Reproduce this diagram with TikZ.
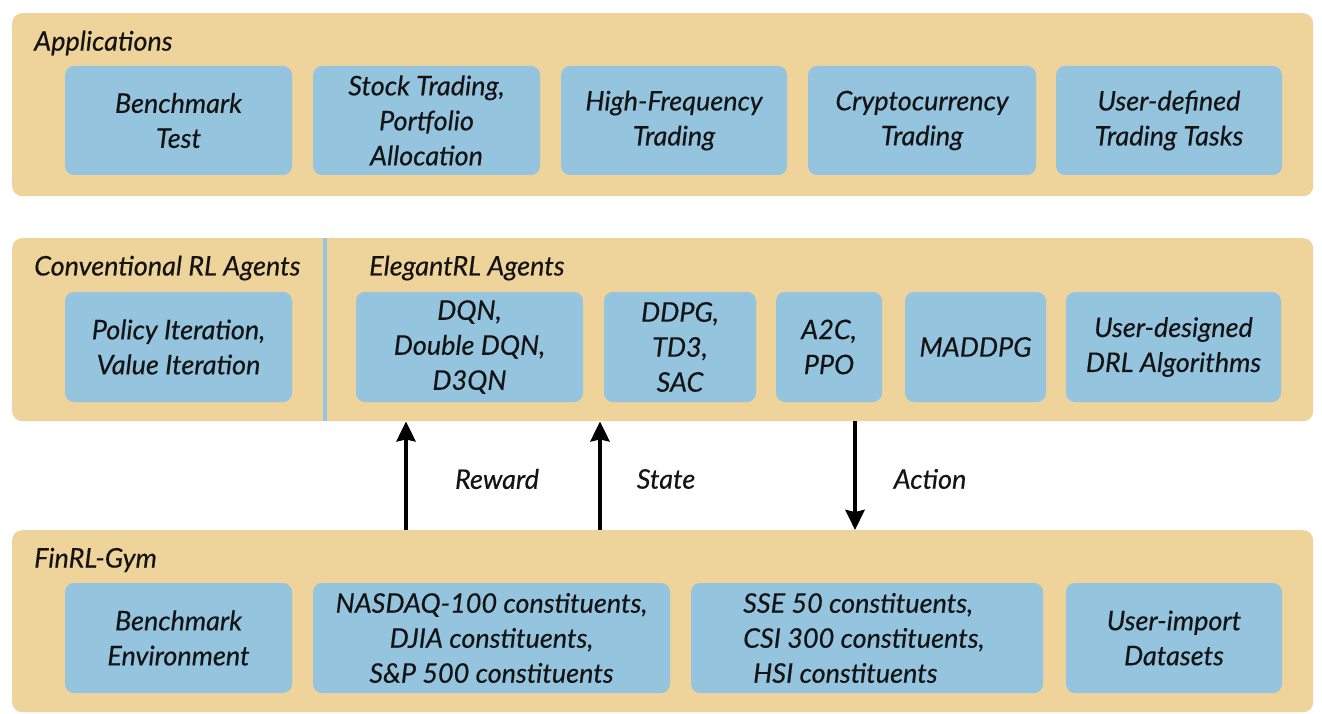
\documentclass[tikz,border=0pt]{standalone}
\usepackage{fontspec}
\setmainfont{Lato}
\usetikzlibrary{arrows.meta}
\definecolor{tan}{RGB}{238,211,155}
\definecolor{bluebox}{RGB}{148,196,222}
\definecolor{txt}{RGB}{20,20,20}
\begin{document}
\begin{tikzpicture}[x=1pt,y=-1pt,
  every node/.style={font=\itshape\fontsize{27}{35}\selectfont\addfontfeature{FakeBold=0.4}, text=txt},
  panel/.style={fill=tan, rounded corners=10pt, anchor=north west, minimum width=1301pt, minimum height=183pt, inner sep=0pt},
  box/.style={fill=bluebox, rounded corners=9pt, align=center, inner sep=0pt},
  title/.style={anchor=west, inner sep=0pt},
  arr/.style={line width=4pt, -{Stealth[length=20pt,width=19pt,inset=2pt]}}]
\useasboundingbox (0,0) rectangle (1322,714);
% panels
\node[panel] (top) at (12,13) {};
\node[panel] (mid) at (12,238) {};
\node[panel, minimum height=182pt] (bot) at (12,530) {};
% titles
\node[title] (tApp) at (34,43) {Applications};
\node[title] (tConv) at (34,268) {Conventional RL Agents};
\node[title] (tEleg) at (369,268) {ElegantRL Agents};
\node[title] (tGym) at (34,560) {FinRL-Gym};
% divider
\coordinate (dv) at (325,0);
\draw[bluebox, line width=4pt] (mid.north -| dv) -- (mid.south -| dv);
% application boxes
\node[box, minimum width=227pt, minimum height=109pt] (a1) at (178.5,120.5) {Benchmark\\Test};
\node[box, minimum width=227pt, minimum height=109pt] (a2) at (426.5,120.5) {Stock Trading,\\Portfolio\\Allocation};
\node[box, minimum width=226pt, minimum height=109pt] (a3) at (674,120.5) {High-Frequency\\Trading};
\node[box, minimum width=228pt, minimum height=109pt] (a4) at (922,120.5) {Cryptocurrency\\Trading};
\node[box, minimum width=226pt, minimum height=109pt] (a5) at (1169,120.5) {User-defined\\Trading Tasks};
% agent boxes
\node[box, minimum width=227pt, minimum height=110pt] (g1) at (178.5,347) {Policy Iteration,\\Value Iteration};
\node[box, minimum width=227pt, minimum height=110pt] (g2) at (469.5,347) {DQN,\\Double DQN,\\D3QN};
\node[box, minimum width=152pt, minimum height=110pt] (g3) at (680,347) {DDPG,\\TD3,\\SAC};
\node[box, minimum width=106pt, minimum height=110pt] (g4) at (829,347) {A2C,\\PPO};
\node[box, minimum width=141pt, minimum height=110pt] (g5) at (975.5,347) {MADDPG};
\node[box, minimum width=215pt, minimum height=110pt] (g6) at (1173.5,347) {User-designed\\DRL Algorithms};
% gym boxes
\node[box, minimum width=227pt, minimum height=110pt] (f1) at (178.5,638) {Benchmark\\Environment};
\node[box, minimum width=357pt, minimum height=110pt] (f2) at (491.5,638) {NASDAQ-100 constituents,\\DJIA constituents,\\S\&P 500 constituents};
\node[box, minimum width=352pt, minimum height=110pt] (f3) at (867,638) {};
\node[anchor=west, align=left, inner sep=0pt] (f3t) at (743,638) {SSE 50 constituents,\\CSI 300 constituents,\\\hspace{10pt}HSI constituents};
\node[box, minimum width=216pt, minimum height=110pt] (f4) at (1174,638) {User-import\\Datasets};
% arrows
\coordinate (xr) at (406,0);
\coordinate (xs) at (600,0);
\coordinate (xa) at (855,0);
\draw[arr] (bot.north -| xr) -- (mid.south -| xr);
\draw[arr] (bot.north -| xs) -- (mid.south -| xs);
\draw[arr] (mid.south -| xa) -- (bot.north -| xa);
\node (lr) at (497,479) {Reward};
\node (ls) at (666,479) {State};
\node (la) at (930,479) {Action};
\end{tikzpicture}
\end{document}
